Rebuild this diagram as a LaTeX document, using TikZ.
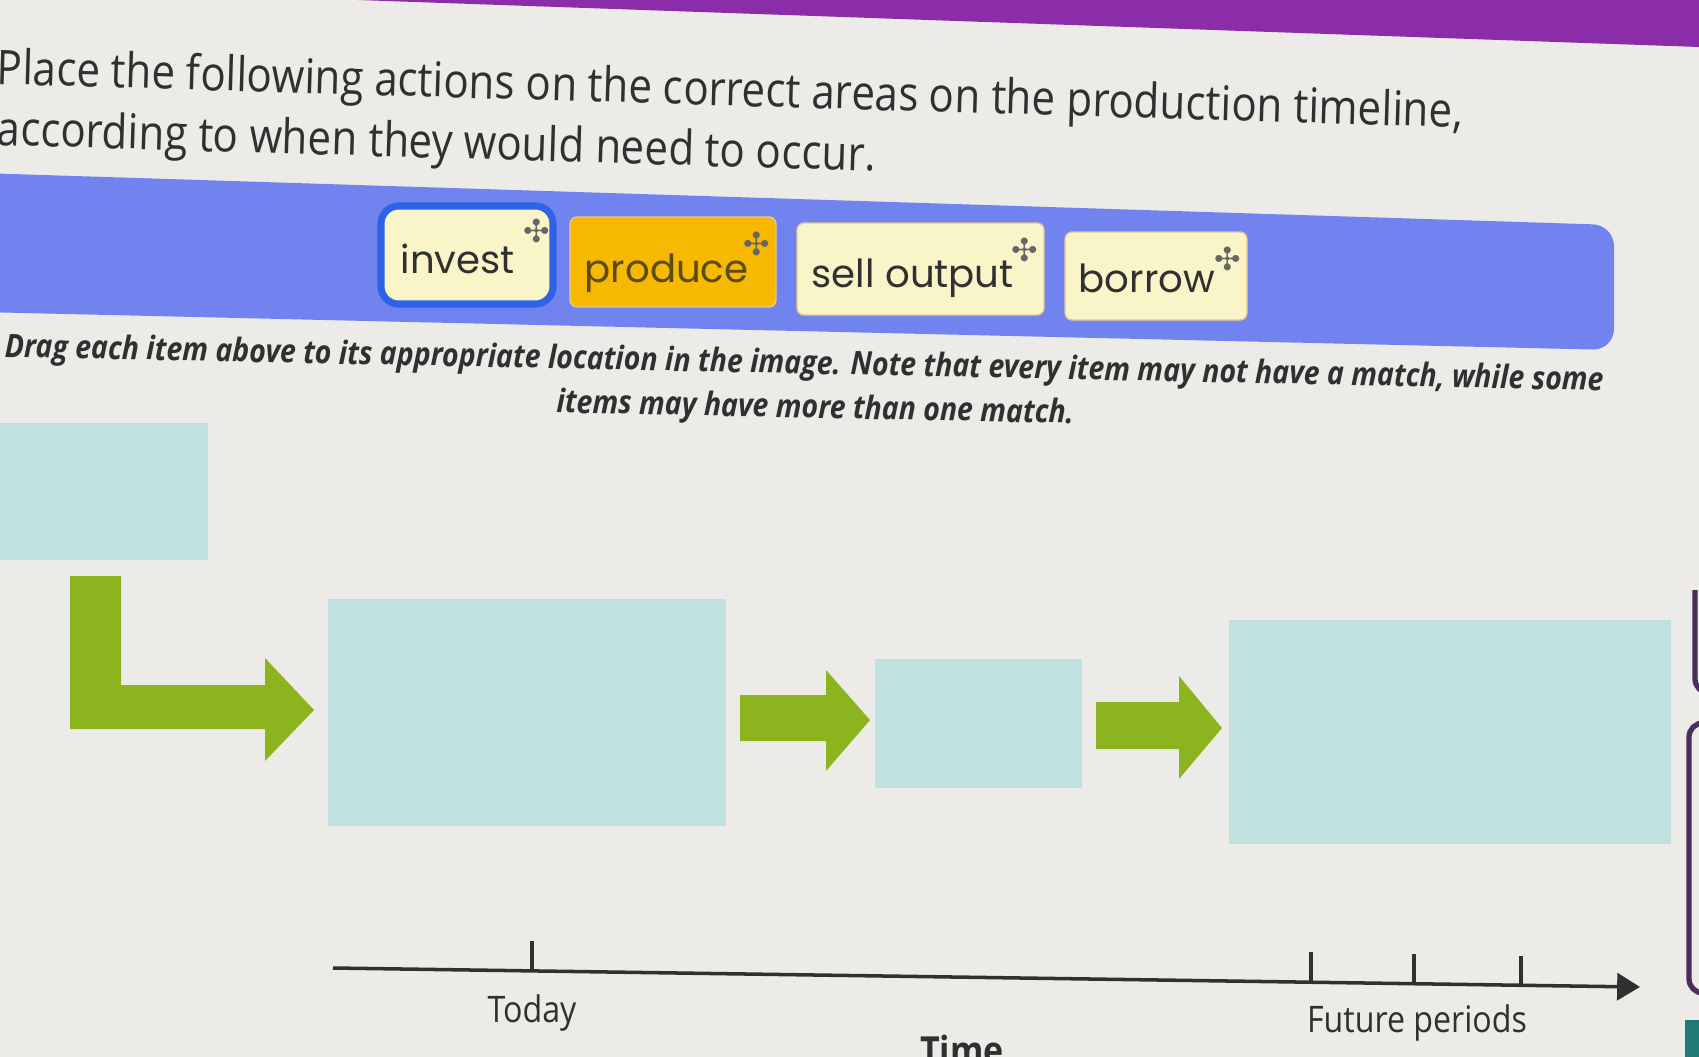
\documentclass[tikz,border=0pt]{standalone}
\usepackage{fontspec}
\setmainfont{Open Sans}[FakeStretch=0.88]
\newfontfamily\chipfont{Poppins}
\newfontfamily\iconfont{DejaVu Sans}
\usetikzlibrary{arrows.meta,fit}

\definecolor{paper}{HTML}{ECEBE7}
\definecolor{topbar}{HTML}{8B2DA8}
\definecolor{bandblue}{HTML}{7083EE}
\definecolor{chipyellow}{HTML}{FAF5C8}
\definecolor{chiporange}{HTML}{F6B800}
\definecolor{chipedge}{HTML}{E6C98C}
\definecolor{selblue}{HTML}{2D64E6}
\definecolor{dropteal}{HTML}{BFE1E0}
\definecolor{arrowgreen}{HTML}{8CB41E}
\definecolor{inktext}{HTML}{303030}
\definecolor{chipbrown}{HTML}{5B4A12}
\definecolor{framedark}{HTML}{4B2D5E}
\definecolor{tealblock}{HTML}{1E7A72}

\tikzset{
  chip/.style={fill=chipyellow, draw=chipedge, line width=0.4pt, rounded corners=2pt, inner sep=0pt},
  chiplabel/.style={font=\chipfont\fontsize{11}{13}\selectfont, text=inktext, inner sep=0pt, anchor=base west},
  moveicon/.style={font=\iconfont\fontsize{9}{9}\selectfont, text=gray!80!black, inner sep=0pt},
  dropbox/.style={fill=dropteal, inner sep=0pt},
  headline/.style={font=\fontsize{13.6}{16}\selectfont, text=inktext, inner sep=0pt, anchor=base west, rotate=-1.7},
  hintline/.style={font=\bfseries\itshape\fontsize{9.2}{11}\selectfont, text=inktext, inner sep=0pt, rotate=-1.2},
  axisline/.style={draw=inktext, line width=1pt},
  axislabel/.style={font=\fontsize{10.4}{12}\selectfont, text=inktext, inner sep=0pt, anchor=base},
}

\begin{document}
\begin{tikzpicture}[x=0.01cm, y=-0.01cm]
\useasboundingbox (0,0) rectangle (1699,1057);
\fill[paper] (0,0) rectangle (1699,1057);
\fill[topbar] (358,0) -- (1699,0) -- (1699,47) -- cycle;

\node[headline] (title1) at (-4,84) {Place the following actions on the correct areas on the production timeline,};
\node[headline] (title2) at (-4,145) {according to when they would need to occur.};

\fill[bandblue, rounded corners=6pt] (-20,173) -- (1614,225) -- (1614,350) -- (-20,312) -- cycle;
\node[chip, draw=selblue, line width=2pt, rounded corners=5pt, fit={(381,206) (553,304)}] (invest) {};
\node[chip, fill=chiporange, fit={(570,217) (776,307)}] (produce) {};
\node[chip, fit={(797,223) (1044,315)}] (sell) {};
\node[chip, fit={(1065,232) (1247,320)}] (borrow) {};
\node[chiplabel] (investlabel) at (400,273) {invest};
\node[chiplabel, text=chipbrown] (producelabel) at (584,282) {produce};
\node[chiplabel] (selllabel) at (811,287) {sell output};
\node[chiplabel] (borrowlabel) at (1078,292) {borrow};
\foreach \c in {invest,produce,sell,borrow}
  \node[moveicon] (\c-icon) at ([xshift=-0.2cm,yshift=-0.28cm]\c.north east) {✣};

\node[hintline, anchor=base west] (hint1) at (4,357) {Drag each item above to its appropriate location in the image. Note that every item may not have a match, while some};
\node[hintline, anchor=base] (hint2) at (815,418) {items may have more than one match.};

\node[dropbox, fit={(0,423) (208,560)}] (boxA) {};
\node[dropbox, fit={(328,599) (726,826)}] (boxB) {};
\node[dropbox, fit={(875,659) (1082,788)}] (boxC) {};
\node[dropbox, fit={(1229,620) (1671,844)}] (boxD) {};

\fill[arrowgreen] (70,576) -- (121,576) -- (121,685) -- (265,685) -- (265,658) -- (314,710) -- (265,761) -- (265,729) -- (70,729) -- cycle;
\fill[arrowgreen] (740,695) -- (826,695) -- (826,670) -- (870,720) -- (826,771) -- (826,741) -- (740,741) -- cycle;
\fill[arrowgreen] (1096,702) -- (1179,702) -- (1179,676) -- (1222,728) -- (1179,779) -- (1179,749) -- (1096,749) -- cycle;

\coordinate (t0) at (333,968);
\coordinate (t1) at (1640,987);
\draw[axisline, -{Triangle[length=6.5pt,width=7.7pt]}] (t0) -- (t1);
\foreach \x/\ya/\yb in {532/941/970, 1311/952/982, 1414/954/983, 1521/956/985}
  \draw[axisline] (\x,\ya) -- (\x,\yb);
\node[axislabel] (today) at (532,1022) {Today};
\node[axislabel] (future) at (1417,1032) {Future periods};
\node[axislabel, font=\bfseries\fontsize{11}{13}\selectfont] (time) at (962,1064) {Time};

\draw[framedark, line width=1.5pt, rounded corners=4pt] (1695,590) -- (1695,693) -- (1705,693);
\draw[framedark, line width=1.5pt, rounded corners=4pt] (1705,723) -- (1689,723) -- (1689,993) -- (1705,993);
\fill[tealblock] (1685,1020) rectangle (1705,1060);
\end{tikzpicture}
\end{document}
